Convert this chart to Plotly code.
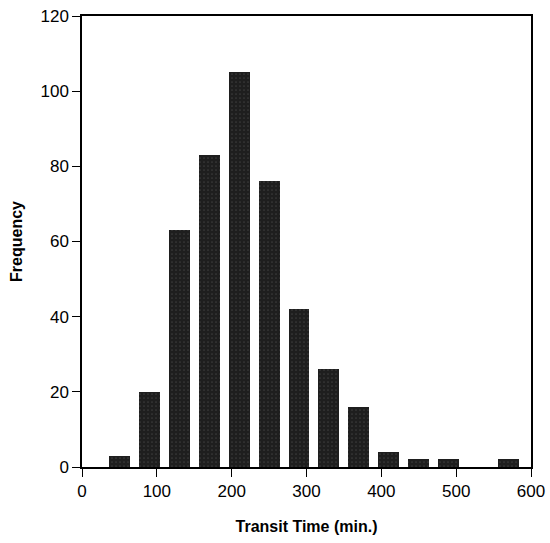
import plotly.graph_objects as go

# histogram of transit times, bins centred every 40 min
bin_centers = [50, 90, 130, 170, 210, 250, 290, 330, 370, 410, 450, 490, 530, 570]
frequency = [3, 20, 63, 83, 105, 76, 42, 26, 16, 4, 2, 2, 0, 2]

x_ticks = [0, 100, 200, 300, 400, 500, 600]
y_ticks = [0, 20, 40, 60, 80, 100, 120]

font_face = "Liberation Sans, Arial, sans-serif"

fig = go.Figure()
fig.add_trace(go.Bar(
    x=bin_centers,
    y=frequency,
    width=28,
    marker=dict(color="#1e1e1e", line=dict(width=0),
                pattern=dict(shape=".", fgcolor="#555555", bgcolor="#1e1e1e",
                             size=4, solidity=0.15)),
    showlegend=False,
))

fig.update_layout(
    width=550, height=543,
    margin=dict(l=82, r=19, t=16, b=76, autoexpand=False),
    paper_bgcolor="white",
    plot_bgcolor="white",
    font=dict(family=font_face, size=17, color="black"),
    bargap=0,
)
fig.update_xaxes(
    range=[0, 600],
    tickvals=x_ticks,
    ticks="outside", ticklen=8, tickwidth=1.3, tickcolor="black",
    showline=True, linecolor="black", linewidth=1.5, mirror=True,
    showgrid=False, zeroline=False, automargin=False,
    ticklabeloverflow="allow",
    title=dict(text="<b>Transit Time (min.)</b>", font=dict(size=16), standoff=21),
)
fig.update_yaxes(
    range=[0, 120],
    tickvals=y_ticks,
    ticks="outside", ticklen=8, tickwidth=1.3, tickcolor="black",
    showline=True, linecolor="black", linewidth=1.5, mirror=True,
    showgrid=False, zeroline=False, automargin=False,
    ticklabeloverflow="allow",
    title=dict(text="<b>Frequency</b>", font=dict(size=16), standoff=14),
)

# drop the default page margin so the figure fills the window exactly
fig.write_html("out.html",
               config={"displayModeBar": False},
               post_script="document.body.style.margin='0';"
                           "document.body.style.overflow='hidden';")
